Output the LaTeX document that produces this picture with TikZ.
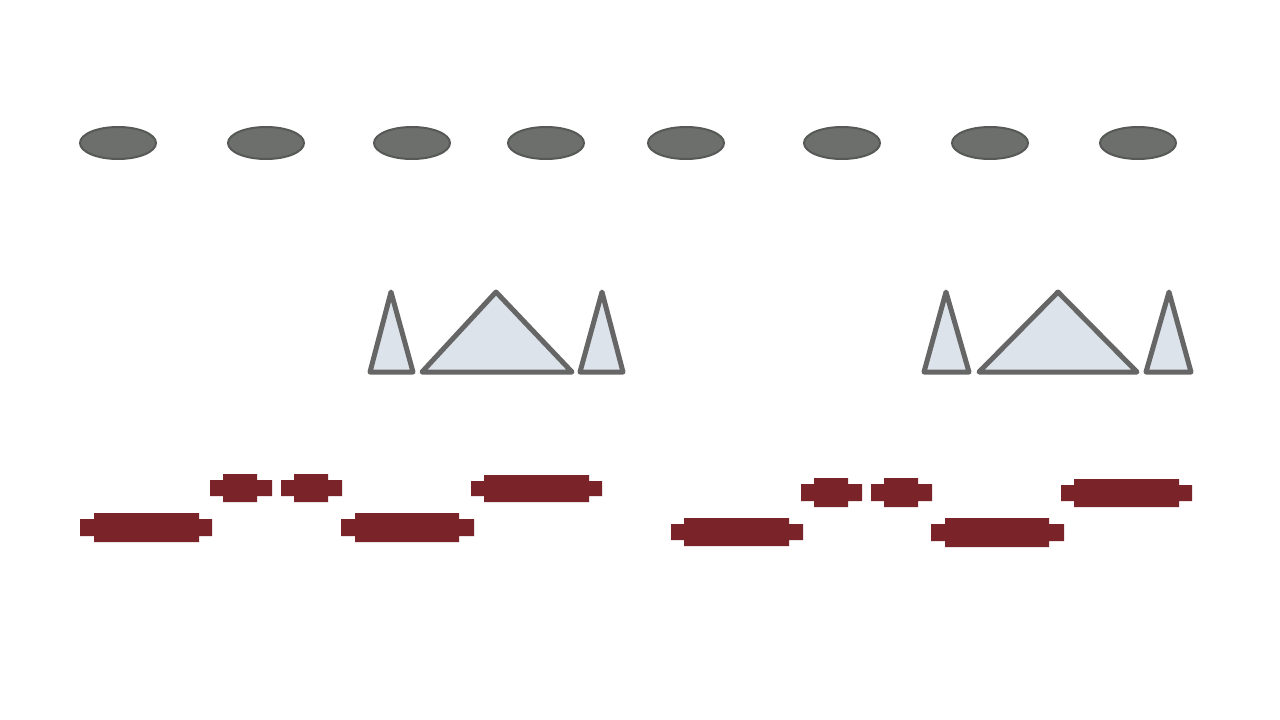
\documentclass[tikz,border=0pt]{standalone}
\usetikzlibrary{shapes.geometric}
\definecolor{discgray}{HTML}{6D6F6C}
\definecolor{discedge}{HTML}{575957}
\definecolor{triedge}{HTML}{666666}
\definecolor{trifill}{HTML}{DCE3EA}
\definecolor{barred}{HTML}{7A2329}
\tikzset{
  disc/.style={fill=discgray, draw=discedge, line width=2pt},
  tri/.style={fill=trifill, draw=triedge, line width=5pt, line join=round},
  barshape/.style={fill=barred},
}
% bar: outer x1, core x1, core x2, outer x2, top y, bottom y
\newcommand\rbar[6]{%
  \fill[barshape] (#1,#5+6) -- (#2,#5+6) -- (#2,#5) -- (#3,#5) -- (#3,#5+6) -- (#4,#5+6)
    -- (#4,#6-6) -- (#3,#6-6) -- (#3,#6) -- (#2,#6) -- (#2,#6-6) -- (#1,#6-6) -- cycle;}
\begin{document}
\begin{tikzpicture}[x=1pt,y=-1pt]
\useasboundingbox (0,0) rectangle (1280,720);
\fill[white] (0,0) rectangle (1280,720);
% discs
\foreach \cx in {118,266,412,546,686,842,990,1138}
  \filldraw[disc] (\cx,143) ellipse (38 and 16);
% triangles group 1
\draw[tri] (370,372) -- (391,292) -- (413,372) -- cycle;
\draw[tri] (422,372) -- (496,292) -- (572,372) -- cycle;
\draw[tri] (580,372) -- (602,292) -- (623,372) -- cycle;
% triangles group 2
\draw[tri] (924,372) -- (946,292) -- (969,372) -- cycle;
\draw[tri] (979,372) -- (1058,292) -- (1137,372) -- cycle;
\draw[tri] (1146,372) -- (1169,292) -- (1191,372) -- cycle;
% bars group 1
\rbar{80}{94}{199}{212}{513}{542}
\rbar{210}{223}{257}{272}{474}{502}
\rbar{281}{294}{328}{342}{474}{502}
\rbar{341}{355}{459}{474}{513}{542}
\rbar{471}{484}{589}{602}{475}{502}
% bars group 2
\rbar{671}{684}{789}{803}{518}{546}
\rbar{801}{814}{848}{862}{478}{507}
\rbar{871}{884}{918}{932}{478}{507}
\rbar{931}{945}{1049}{1064}{518}{547}
\rbar{1061}{1074}{1179}{1192}{479}{507}
\end{tikzpicture}
\end{document}
